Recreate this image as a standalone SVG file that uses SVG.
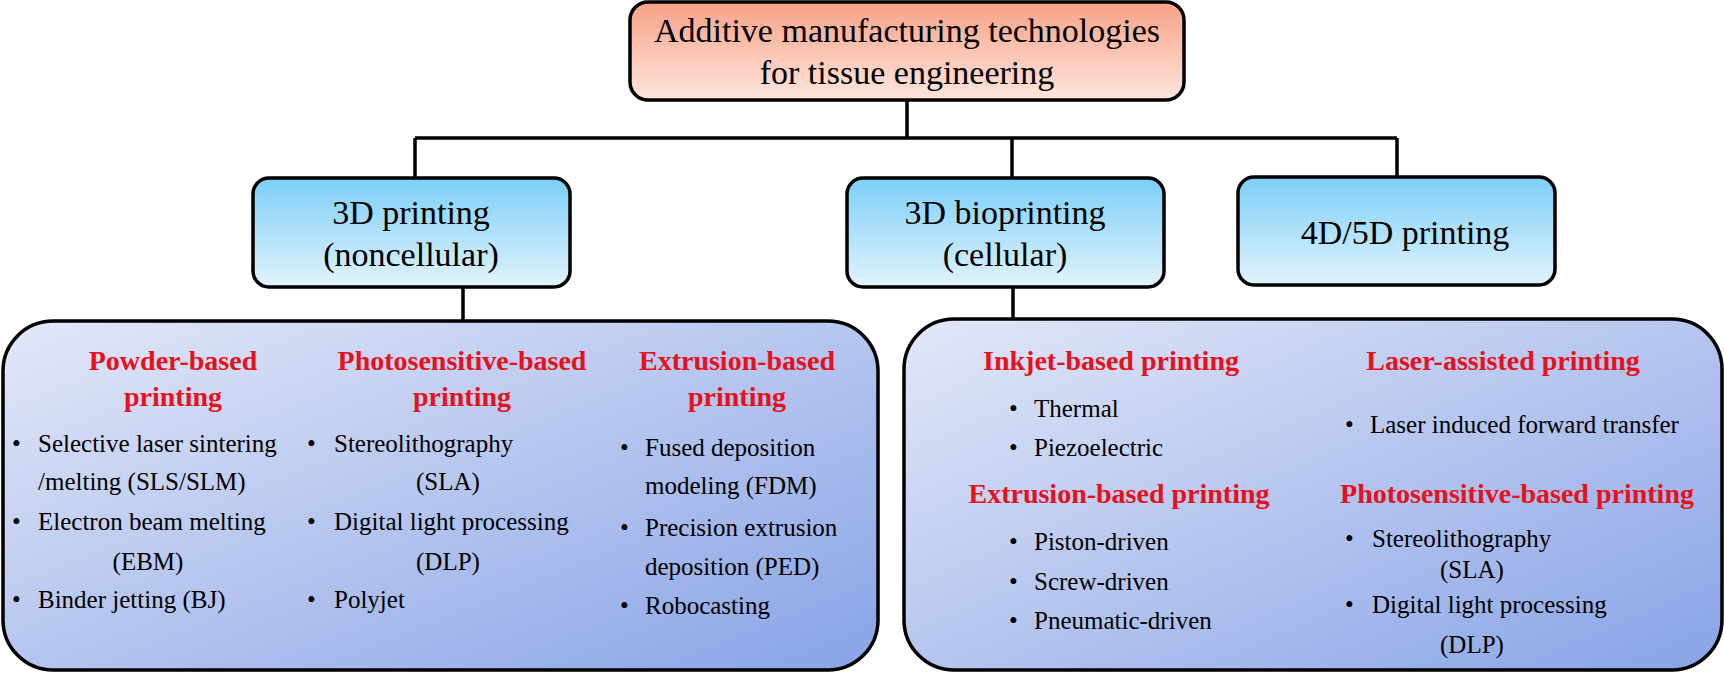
<svg xmlns="http://www.w3.org/2000/svg" width="1724" height="673" viewBox="0 0 1724 673">
<defs>
<linearGradient id="gO" x1="0" y1="0" x2="0" y2="1"><stop offset="0" stop-color="#f8a286"/><stop offset="1" stop-color="#fde6de"/></linearGradient>
<linearGradient id="gB" x1="0" y1="0" x2="0" y2="1"><stop offset="0" stop-color="#7ccff8"/><stop offset="1" stop-color="#e2f3fd"/></linearGradient>
<linearGradient id="gP" x1="0" y1="0" x2="1" y2="1"><stop offset="0" stop-color="#e3e8f8"/><stop offset="1" stop-color="#88a3e6"/></linearGradient>
<style>
.bx{stroke:#000;stroke-width:3.5}
.t{font-family:"Liberation Serif","Times New Roman",serif;font-size:34px;fill:#000;text-anchor:middle}
.h{font-family:"Liberation Serif","Times New Roman",serif;font-size:28px;font-weight:bold;fill:#e8101a;text-anchor:middle}
.i{font-family:"Liberation Serif","Times New Roman",serif;font-size:25px;fill:#000}
.c{text-anchor:middle}
.ln{stroke:#000;stroke-width:3.5;fill:none}
</style>
</defs>
<g id="connectors">
<path class="ln" d="M907 100V138M415 138H1397M415 138V178M1012 138V178M1397 138V177M463 287V321M1013 287V319"/>
</g>
<g id="root"><rect class="bx" x="630" y="2" width="554" height="98" rx="18" fill="url(#gO)"/>
<text class="t" x="907" y="42">Additive manufacturing technologies</text><text class="t" x="907" y="84">for tissue engineering</text></g>
<g id="n3d"><rect class="bx" x="253" y="178" width="317" height="109" rx="16" fill="url(#gB)"/>
<text class="t" x="411" y="224">3D printing</text><text class="t" x="411" y="266">(noncellular)</text></g>
<g id="nbio"><rect class="bx" x="847" y="178" width="317" height="109" rx="16" fill="url(#gB)"/>
<text class="t" x="1005" y="224">3D bioprinting</text><text class="t" x="1005" y="266">(cellular)</text></g>
<g id="n4d"><rect class="bx" x="1238" y="177" width="317" height="108" rx="16" fill="url(#gB)"/>
<text class="t" x="1405" y="244">4D/5D printing</text></g>
<g id="nonc"><rect class="bx" x="3" y="321" width="875" height="349" rx="50" fill="url(#gP)"/>
<text class="h" x="173" y="370">Powder-based</text><text class="h" x="173" y="406">printing</text>
<text class="h" x="462" y="370">Photosensitive-based</text><text class="h" x="462" y="406">printing</text>
<text class="h" x="737" y="370">Extrusion-based</text><text class="h" x="737" y="406">printing</text>
<g class="i">
<text x="12" y="452">•</text><text x="38" y="452">Selective laser sintering</text>
<text x="38" y="490">/melting (SLS/SLM)</text>
<text x="12" y="530">•</text><text x="38" y="530">Electron beam melting</text>
<text class="c" x="148" y="570">(EBM)</text>
<text x="12" y="608">•</text><text x="38" y="608">Binder jetting (BJ)</text>
<text x="307" y="452">•</text><text x="334" y="452">Stereolithography</text>
<text class="c" x="448" y="490">(SLA)</text>
<text x="307" y="530">•</text><text x="334" y="530">Digital light processing</text>
<text class="c" x="448" y="570">(DLP)</text>
<text x="307" y="608">•</text><text x="334" y="608">Polyjet</text>
<text x="620" y="456">•</text><text x="645" y="456">Fused deposition</text>
<text x="645" y="494">modeling (FDM)</text>
<text x="620" y="536">•</text><text x="645" y="536">Precision extrusion</text>
<text x="645" y="575">deposition (PED)</text>
<text x="620" y="614">•</text><text x="645" y="614">Robocasting</text>
</g></g>
<g id="cell"><rect class="bx" x="904" y="319" width="818" height="351" rx="50" fill="url(#gP)"/>
<text class="h" x="1111" y="370">Inkjet-based printing</text>
<text class="h" x="1503" y="370">Laser-assisted printing</text>
<text class="h" x="1119" y="503">Extrusion-based printing</text>
<text class="h" x="1517" y="503">Photosensitive-based printing</text>
<g class="i">
<text x="1009" y="417">•</text><text x="1034" y="417">Thermal</text>
<text x="1009" y="456">•</text><text x="1034" y="456">Piezoelectric</text>
<text x="1345" y="433">•</text><text x="1370" y="433">Laser induced forward transfer</text>
<text x="1009" y="550">•</text><text x="1034" y="550">Piston-driven</text>
<text x="1009" y="590">•</text><text x="1034" y="590">Screw-driven</text>
<text x="1009" y="629">•</text><text x="1034" y="629">Pneumatic-driven</text>
<text x="1345" y="547">•</text><text x="1372" y="547">Stereolithography</text>
<text class="c" x="1472" y="578">(SLA)</text>
<text x="1345" y="613">•</text><text x="1372" y="613">Digital light processing</text>
<text class="c" x="1472" y="653">(DLP)</text>
</g></g>
</svg>
